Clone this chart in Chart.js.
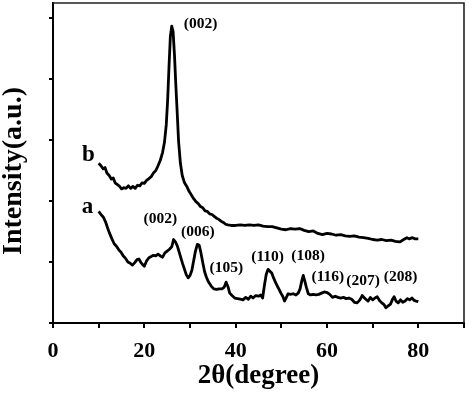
<!DOCTYPE html>
<html>
<head>
<meta charset="utf-8">
<script src="https://cdn.jsdelivr.net/npm/chart.js@4.4.0/dist/chart.umd.min.js"></script>
<style>
  html, body { margin: 0; padding: 0; background: #fff; }
  #wrap { width: 474px; height: 398px; }
</style>
</head>
<body>
<div id="wrap"><canvas id="xrd" width="474" height="398"></canvas></div>
<script>
// XRD patterns, curve a (lower) and curve b (upper)
const angleA = [10.0, 10.5, 11.0, 11.5, 12.0, 12.4, 12.9, 13.4, 13.9, 14.4, 14.9, 15.4, 15.9, 16.4, 16.9, 17.4, 17.9, 18.4, 18.8, 19.2,
  19.6, 20.0, 20.5, 21.0, 21.5, 22.0, 22.5, 23.0, 23.5, 24.0, 24.5, 25.0, 25.5, 26.0, 26.4, 26.8, 27.2, 27.6, 28.0, 28.4,
  28.8, 29.2, 29.6, 30.0, 30.4, 30.8, 31.2, 31.6, 32.0, 32.4, 32.8, 33.2, 33.6, 34.0, 34.6, 35.2, 35.8, 36.4, 37.0, 37.5,
  37.9, 38.3, 38.7, 39.2, 39.8, 40.4, 41.0, 41.6, 42.2, 42.8, 43.3, 43.8, 44.4, 45.0, 45.5, 45.9, 46.3, 46.7, 47.1, 47.5,
  47.9, 48.3, 48.7, 49.1, 49.5, 49.9, 50.3, 50.7, 51.1, 51.5, 52.0, 52.6, 53.2, 53.7, 54.1, 54.5, 54.8, 55.1, 55.5, 55.9,
  56.4, 57.0, 57.6, 58.2, 58.8, 59.4, 60.0, 60.6, 61.2, 61.8, 62.4, 63.0, 63.6, 64.2, 64.8, 65.4, 66.0, 66.6, 67.2, 67.7,
  68.1, 68.5, 69.0, 69.5, 70.0, 70.5, 71.0, 71.5, 72.0, 72.5, 72.9, 73.4, 73.9, 74.3, 74.7, 75.1, 75.6, 76.1, 76.6, 77.1,
  77.6, 78.1, 78.6, 79.1, 79.5, 80.0];
const intensityA = [1.83, 1.78, 1.74, 1.66, 1.55, 1.47, 1.38, 1.30, 1.26, 1.20, 1.16, 1.10, 1.06, 1.00, 0.98, 0.95, 0.99, 1.04, 1.05, 1.00,
  0.96, 0.93, 1.02, 1.07, 1.09, 1.11, 1.10, 1.13, 1.10, 1.08, 1.15, 1.18, 1.21, 1.25, 1.37, 1.33, 1.27, 1.17, 1.07, 0.97,
  0.88, 0.79, 0.74, 0.78, 0.86, 1.02, 1.18, 1.29, 1.28, 1.15, 0.99, 0.84, 0.75, 0.68, 0.61, 0.56, 0.55, 0.56, 0.56, 0.59,
  0.67, 0.60, 0.49, 0.45, 0.41, 0.40, 0.39, 0.38, 0.42, 0.39, 0.44, 0.41, 0.45, 0.44, 0.46, 0.41, 0.62, 0.80, 0.88, 0.85,
  0.82, 0.74, 0.67, 0.61, 0.55, 0.49, 0.44, 0.36, 0.42, 0.48, 0.47, 0.48, 0.46, 0.49, 0.56, 0.70, 0.78, 0.70, 0.58, 0.48,
  0.46, 0.47, 0.46, 0.47, 0.49, 0.51, 0.50, 0.47, 0.42, 0.44, 0.42, 0.41, 0.42, 0.40, 0.41, 0.39, 0.34, 0.33, 0.38, 0.45,
  0.42, 0.39, 0.36, 0.42, 0.38, 0.41, 0.43, 0.37, 0.33, 0.30, 0.25, 0.28, 0.31, 0.38, 0.43, 0.36, 0.33, 0.38, 0.34, 0.36,
  0.40, 0.38, 0.41, 0.37, 0.36, 0.35];

const angleB = [10.0, 10.5, 11.0, 11.4, 11.8, 12.3, 12.8, 13.2, 13.6, 14.1, 14.6, 15.0, 15.5, 16.0, 16.5, 17.0, 17.5, 18.0, 18.5, 19.0,
  19.5, 20.0, 20.5, 21.0, 21.5, 22.0, 22.5, 23.0, 23.5, 24.0, 24.4, 24.8, 25.1, 25.4, 25.7, 26.0, 26.3, 26.6, 26.9, 27.2,
  27.5, 27.9, 28.3, 28.8, 29.3, 29.8, 30.3, 30.8, 31.3, 31.8, 32.3, 32.8, 33.3, 33.8, 34.3, 34.8, 35.3, 35.8, 36.3, 36.8,
  37.3, 37.8, 38.3, 39, 40, 41, 42, 43, 44, 45, 46, 47, 48, 49, 50, 51, 52, 53, 54, 55,
  56, 57, 58, 59, 60, 61, 62, 63, 64, 65, 66, 67, 68, 69, 70, 71, 72, 73, 74, 75,
  76, 76.8, 77.5, 78, 78.7, 79.3, 80];
const intensityB = [2.62, 2.58, 2.53, 2.55, 2.46, 2.42, 2.36, 2.38, 2.30, 2.27, 2.24, 2.20, 2.22, 2.21, 2.25, 2.21, 2.24, 2.21, 2.26, 2.25,
  2.30, 2.29, 2.34, 2.37, 2.40, 2.46, 2.50, 2.58, 2.67, 2.80, 2.96, 3.25, 3.65, 4.20, 4.70, 4.87, 4.78, 4.40, 3.90, 3.45,
  2.98, 2.62, 2.42, 2.30, 2.24, 2.16, 2.10, 2.04, 1.99, 1.96, 1.91, 1.89, 1.84, 1.83, 1.79, 1.78, 1.75, 1.72, 1.70, 1.67,
  1.65, 1.62, 1.61, 1.60, 1.60, 1.61, 1.60, 1.61, 1.60, 1.61, 1.59, 1.58, 1.58, 1.56, 1.54, 1.53, 1.55, 1.54, 1.55, 1.52,
  1.50, 1.51, 1.47, 1.45, 1.47, 1.46, 1.44, 1.45, 1.43, 1.42, 1.43, 1.41, 1.40, 1.39, 1.37, 1.36, 1.37, 1.35, 1.36, 1.34,
  1.33, 1.37, 1.40, 1.38, 1.40, 1.38, 1.38];

// axis ticks
const xTicks = [0, 10, 20, 30, 40, 50, 60, 70, 80, 90];
const xTickLabels = [0, 20, 40, 60, 80];
const yTicks = [0, 1, 2, 3, 4, 5];

// peak indices and curve names, anchored in data units
const peakText = ['(002)', '(002)', '(006)', '(105)', '(110)', '(108)', '(116)', '(207)', '(208)'];
const peakAngle = [32.3, 23.5, 31.7, 37.95, 47.0, 55.85, 60.2, 67.9, 76.1];
const peakLevel = [4.90, 1.70, 1.50, 0.91, 1.09, 1.10, 0.76, 0.69, 0.76];
const curveText = ['b', 'a'];
const curveAngle = [7.76, 7.55];
const curveLevel = [2.76, 1.91];

const SERIF = "'Liberation Serif', 'Times New Roman', serif";

const toPoints = (xs, ys) => xs.map((x, i) => ({ x, y: ys[i] }));

// frame on top/right, y title and the hkl labels
const extrasPlugin = {
    id: 'extras',
    afterDatasetsDraw(chart) {
        const { ctx, chartArea: a, scales: { x, y } } = chart;
        ctx.save();

        ctx.strokeStyle = '#222';
        ctx.lineWidth = 1.6;
        ctx.beginPath();
        ctx.moveTo(a.left, a.top);
        ctx.lineTo(a.right, a.top);
        ctx.lineTo(a.right, a.bottom);
        ctx.stroke();

        ctx.fillStyle = '#000';
        ctx.textAlign = 'center';
        ctx.textBaseline = 'middle';

        ctx.font = `bold 15.5px ${SERIF}`;
        peakText.forEach((t, i) => {
            ctx.fillText(t, x.getPixelForValue(peakAngle[i]), y.getPixelForValue(peakLevel[i]));
        });

        ctx.font = `bold 23px ${SERIF}`;
        curveText.forEach((t, i) => {
            ctx.fillText(t, x.getPixelForValue(curveAngle[i]), y.getPixelForValue(curveLevel[i]));
        });

        // y axis title
        ctx.translate(14, 171);
        ctx.rotate(-Math.PI / 2);
        ctx.font = `bold 28px ${SERIF}`;
        ctx.fillText('Intensity(a.u.)', 0, 0);

        ctx.restore();
    }
};

const ctx = document.getElementById('xrd').getContext('2d');
new Chart(ctx, {
    type: 'line',
    data: {
        datasets: [
            { label: 'a', data: toPoints(angleA, intensityA) },
            { label: 'b', data: toPoints(angleB, intensityB) },
        ],
    },
    options: {
        responsive: false,
        animation: false,
        devicePixelRatio: 1,
        layout: { padding: { top: 3, right: 4, left: 0, bottom: 0 } },
        elements: {
            line: { borderColor: '#000', borderWidth: 2.8, tension: 0, borderJoinStyle: 'round' },
            point: { radius: 0 },
        },
        plugins: {
            legend: { display: false },
            tooltip: { enabled: false },
        },
        scales: {
            x: {
                type: 'linear',
                min: 0,
                max: 90,
                afterBuildTicks: scale => { scale.ticks = xTicks.map(v => ({ value: v })); },
                afterFit: scale => { scale.height = 75; },
                border: { display: true, color: '#000', width: 2 },
                grid: { drawOnChartArea: false, drawTicks: true, tickLength: 5, color: '#000', lineWidth: 2 },
                ticks: {
                    padding: 10,
                    color: '#000',
                    maxRotation: 0,
                    font: { family: SERIF, size: 22, weight: 'bold' },
                    callback: v => xTickLabels.includes(v) ? String(v) : '',
                },
                title: {
                    display: true,
                    text: '2θ(degree)',
                    color: '#000',
                    font: { family: SERIF, size: 27, weight: 'bold', lineHeight: 1.2 },
                    padding: { top: 0, bottom: 6 },
                },
            },
            y: {
                type: 'linear',
                min: 0,
                max: 5.25,
                afterBuildTicks: scale => { scale.ticks = yTicks.map(v => ({ value: v })); },
                afterFit: scale => { scale.width = 53; },
                border: { display: true, color: '#000', width: 2 },
                grid: { drawOnChartArea: false, drawTicks: true, tickLength: 4, color: '#000', lineWidth: 2 },
                ticks: { display: false },
            },
        },
    },
    plugins: [extrasPlugin],
});
</script>
</body>
</html>
